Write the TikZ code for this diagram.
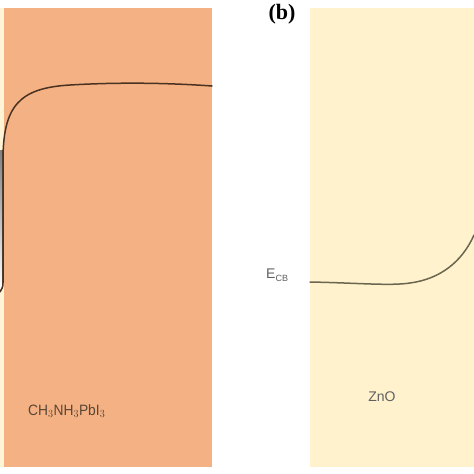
\documentclass[tikz,border=0pt]{standalone}
\usepackage{fontspec}
\setmainfont{Liberation Serif}
\setsansfont{Liberation Sans}
\definecolor{perov}{HTML}{F4B183}
\definecolor{zno}{HTML}{FFF2CC}
\definecolor{strip}{HTML}{FFF4D6}
\definecolor{shade}{HTML}{C4BC9C}
\definecolor{curveA}{HTML}{4A3222}
\definecolor{curveB}{HTML}{6B6650}
\definecolor{labA}{HTML}{5A4636}
\definecolor{labB}{HTML}{606060}
\tikzset{
  band/.style={line width=1.5pt, line cap=round},
  lab/.style={font=\sffamily, inner sep=0pt}
}
\begin{document}
\begin{tikzpicture}[x=1pt,y=-1pt]
\useasboundingbox (0,0) rectangle (474,474);
\fill[white] (0,0) rectangle (474,474);
% panels
\fill[strip] (0,8) rectangle (4,467);
\fill[perov] (4,8) rectangle (212,467);
\fill[zno] (310,8) rectangle (474,467);
\fill[shade] (0,150) -- (2.5,150) -- (2.5,286) -- (0,290) -- cycle;
% band curves
\draw[band, curveA] (0,292) .. controls (2,289) and (3,287) .. (3,283)
  -- (3,160) .. controls (3,105) and (20,88) .. (70,85)
  .. controls (120,82) and (170,83) .. (212,86);
\draw[band, curveB] (310,282) .. controls (360,283) and (390,286) .. (410,283)
  .. controls (440,279) and (462,262) .. (474,235);
% labels
\node[font=\rmfamily\bfseries\fontsize{22}{22}\selectfont, inner sep=0pt] (b) at (282,14) {(b)};
\node[lab, text=labB, font=\sffamily\fontsize{14}{14}\selectfont, anchor=base west] (ecb) at (266,278) {E\raisebox{-3pt}{\fontsize{9}{9}\selectfont CB}};
\node[lab, text=labB, font=\sffamily\fontsize{14}{14}\selectfont] (zno) at (382,397) {ZnO};
\node[lab, text=labA, font=\sffamily\fontsize{15}{15}\selectfont, anchor=west, xscale=0.92] (mapi) at (28,411) {CH$_3$NH$_3$PbI$_3$};
\end{tikzpicture}
\end{document}
